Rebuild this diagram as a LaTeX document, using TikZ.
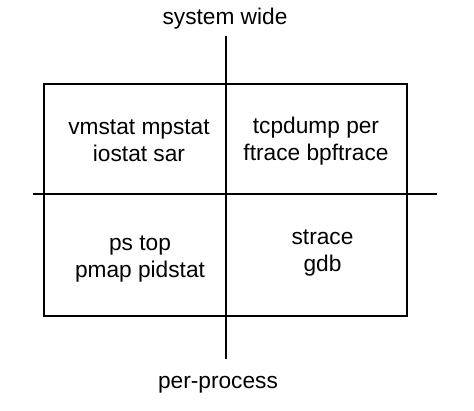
\documentclass[tikz,border=0pt]{standalone}
\usepackage{fontspec}
\setmainfont{Liberation Sans}
\begin{document}
\begin{tikzpicture}
    [
    x=1pt, y=-1pt,
    every node/.style={font=\fontsize{22.7}{27}\selectfont,align=center,inner sep=0pt},
    axis/.style={line width=1.4pt},
    ]
    \useasboundingbox (0,0) rectangle (474,411);
    % the four quadrants
    \coordinate (nw) at (44,84);
    \coordinate (se) at (407,316);
    \draw[axis] (nw) rectangle (se);
    \coordinate (top) at (226,36);
    \coordinate (bottom) at (226,359);
    \coordinate (left) at (33,194);
    \coordinate (right) at (437,194);
    \draw[axis] (top) -- (bottom);
    \draw[axis] (left) -- (right);
    % axis labels
    \node (sys) at (225,19) {system wide};
    \node (proc) at (218,385) {per-process};
    % tools
    \node (q1) at (139,141) {vmstat mpstat\\iostat sar};
    \node (q2) at (316,141) {tcpdump per\\ftrace bpftrace};
    \node (q3) at (140,259) {ps top\\pmap pidstat};
    \node (q4) at (322.5,253) {strace\\gdb};
  \end{tikzpicture}
\end{document}
